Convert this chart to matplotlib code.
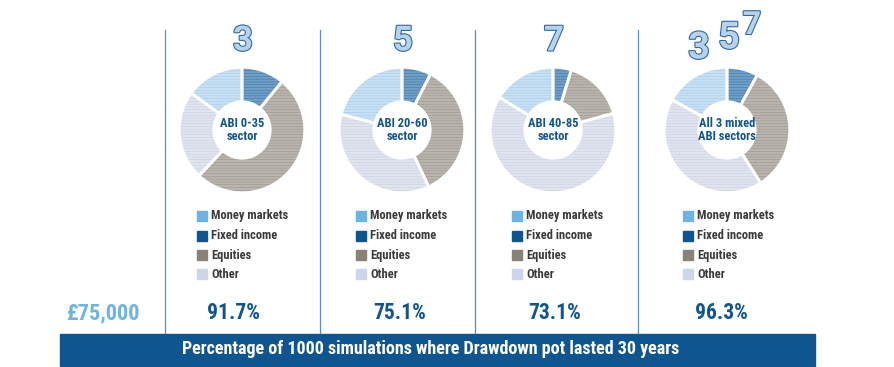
#recreate the drawdown asset-mix donut panel
import matplotlib
matplotlib.use("Agg")
import matplotlib.pyplot as plt
import matplotlib.patheffects as pe
from matplotlib import font_manager

#data
sectors = ["ABI 0-35\nsector", "ABI 20-60\nsector", "ABI 40-85\nsector", "All 3 mixed\nABI sectors"]
fixed_income = [11.0, 7.5, 4.7, 8.0]
equities = [51.0, 35.5, 16.0, 33.0]
other = [23.0, 36.0, 63.0, 42.0]
money_markets = [15.0, 21.0, 16.3, 17.0]
success_rate = [91.7, 75.1, 73.1, 96.3]
pot_label = "£75,000"
risk_labels = ["3", "5", "7"]
legend_labels = ["Money markets", "Fixed income", "Equities", "Other"]
banner = "Percentage of 1000 simulations where Drawdown pot lasted 30 years"

#colours
dark_blue = "#0f5690"
light_blue = "#6cb4e4"
swatch = {"Money markets": "#6cb4e4", "Fixed income": "#0f5690", "Equities": "#8a8178", "Other": "#cdd5e8"}
slice_col = ["#6f9ec6", "#b9b5ae", "#e1e4ef", "#c8e0f3"]   # fixed, equities, other, money
hatch_col = ["#3f77a8", "#9a958d", "#c9cfe2", "#a5cbe9"]

#condensed font if available
names = {f.name for f in font_manager.fontManager.ttflist}
cond = "DejaVu Sans"
for cand in ["Roboto Condensed", "Archivo Narrow", "Liberation Sans Narrow",
             "Barlow Semi Condensed", "Asap Condensed"]:
    if cand in names:
        cond = cand
        break
wide = "Roboto" if "Roboto" in names else "DejaVu Sans"
plt.rcParams['font.family'] = [cond, 'DejaVu Sans']
plt.rcParams['hatch.linewidth'] = 0.4

W, H = 895, 367
fig = plt.figure(figsize=(W / 100, H / 100), dpi=100)

def fx(x):
    return x / W

def fy(y):
    return 1 - y / H

#pixel layout
centers_x = [242, 402, 553, 727]
center_y = 130
radius = 64
legend_x = [197, 356, 512, 683]
legend_y = [216, 236, 255, 274]
pct_x = [234, 400, 555, 721]
divider_x = [165, 320, 475, 638]

for i in range(4):
    ax = fig.add_axes([fx(centers_x[i] - radius), fy(center_y + radius),
                       2 * radius / W, 2 * radius / H])
    vals = [fixed_income[i], equities[i], other[i], money_markets[i]]
    wedges, _ = ax.pie(vals, colors=slice_col, startangle=90, counterclock=False,
                       radius=1, wedgeprops=dict(width=0.55, linewidth=0))
    for w, hc in zip(wedges, hatch_col):
        w.set_hatch("------")
        w.set_edgecolor(hc)
    ax.pie(vals, colors=["none"] * 4, startangle=90, counterclock=False, radius=1,
           wedgeprops=dict(width=0.55, linewidth=2, edgecolor="white"))
    ax.set_xlim(-1.02, 1.02)
    ax.set_ylim(-1.02, 1.02)
    ax.axis("off")
    ax.text(0, 0, sectors[i], ha="center", va="center", color=dark_blue,
            fontsize=9, fontweight="bold", linespacing=0.95)

    #legend
    for j, lab in enumerate(legend_labels):
        fig.patches.append(plt.Rectangle((fx(legend_x[i]), fy(legend_y[j] + 5)), 10 / W, 10 / H,
                                         transform=fig.transFigure, color=swatch[lab]))
        fig.text(fx(legend_x[i] + 14), fy(legend_y[j]), lab, ha="left", va="center",
                 fontsize=9, fontweight="bold", color="#3a3a3a")

    fig.text(fx(pct_x[i]), fy(313), f"{success_rate[i]:.1f}%", ha="center", va="center",
             fontsize=15.5, fontweight="bold", color=dark_blue)

#big risk numbers
outline = [pe.Stroke(linewidth=1.6, foreground="#2d6aa2"), pe.Normal()]
for i, lab in enumerate(risk_labels):
    fig.text(fx(centers_x[i] + 1), fy(41), lab, ha="center", va="center", fontsize=25,
             fontweight="bold", family=[wide, "DejaVu Sans"], color="#b7d2ea",
             path_effects=outline)
mix_pos = [(699, 48, 27), (729, 38, 27), (752, 25, 23)]
for lab, (x, y, s) in zip(risk_labels, mix_pos):
    fig.text(fx(x), fy(y), lab, ha="center", va="center", fontsize=s, fontweight="bold",
             family=[wide, "DejaVu Sans"], color="#b7d2ea", path_effects=outline)

#vertical dividers
for x in divider_x:
    fig.add_artist(plt.Line2D([fx(x), fx(x)], [fy(30), fy(333)], transform=fig.transFigure,
                              color="#5b8fc2", linewidth=0.9))

fig.text(fx(104), fy(313), pot_label, ha="center", va="center", fontsize=16,
         fontweight="bold", color=light_blue)

#banner
fig.patches.append(plt.Rectangle((fx(60), fy(366)), 755 / W, 32 / H,
                                 transform=fig.transFigure, color=dark_blue))
fig.text(fx(431), fy(349), banner, ha="center", va="center", fontsize=13,
         fontweight="bold", color="white")

fig.savefig("out.png", dpi=100)
